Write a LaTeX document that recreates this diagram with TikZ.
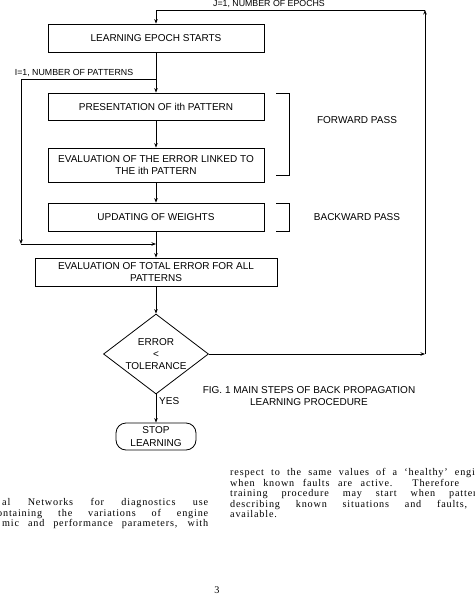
\documentclass[tikz,border=0pt]{standalone}
\usepackage{fontspec}
\setmainfont{Liberation Sans}
\newfontfamily\bodyserif[LetterSpace=8]{Liberation Serif}
\usetikzlibrary{arrows.meta,shapes.geometric}
\begin{document}
\begin{tikzpicture}[x=1pt,y=-1pt,
  box/.style={draw, line width=0.8pt, minimum width=216pt, minimum height=28pt, inner sep=0pt, align=center, font=\fontsize{10}{12.5}\selectfont},
  arr/.style={line width=0.8pt, -{Stealth[length=4.5pt,width=3.5pt]}},
  ln/.style={line width=0.8pt},
  lbl/.style={font=\fontsize{8.8}{10}\selectfont, inner sep=0pt},
  txt/.style={font=\fontsize{10}{12.3}\selectfont, inner sep=0pt, align=center},
  body/.style={font=\bodyserif\fontsize{10.2}{11}\selectfont, inner sep=0pt, anchor=base west}
]
\fill[white] (0,0) rectangle (474,597);
\useasboundingbox (0,0) rectangle (474,597);

% boxes
\node[box] (b1) at (156,38) {LEARNING EPOCH STARTS};
\node[box, minimum height=27pt] (b2) at (156,106.5) {PRESENTATION OF ith PATTERN};
\node[box, minimum height=34pt] (b3) at (156,165) {EVALUATION OF THE ERROR LINKED TO\\THE ith PATTERN};
\node[box] (b4) at (156,217) {UPDATING OF WEIGHTS};
\node[box, minimum width=242pt] (b5) at (156,272) {EVALUATION OF TOTAL ERROR FOR ALL\\PATTERNS};
\node[draw, line width=0.8pt, diamond, aspect=1.3125, inner sep=-1.5pt, minimum width=105pt, minimum height=80pt, align=center, font=\fontsize{10}{12}\selectfont] (dec) at (156,354) {ERROR\\<\\TOLERANCE};
\node[draw, line width=0.8pt, rounded corners=10pt, minimum width=80pt, minimum height=27pt, inner sep=0pt, align=center, font=\fontsize{10}{12.8}\selectfont] (stop) at (156,436.5) {STOP\\LEARNING};

% brackets
\draw[ln] (276,93) -- (289,93) -- (289,175) -- (276,175);
\draw[ln] (276,203) -- (289,203) -- (289,231) -- (276,231);

% texts
\node[txt] (fp) at (357,120) {FORWARD PASS};
\node[txt] (bp) at (357,217) {BACKWARD PASS};
\node[txt] (cap) at (309,396) {FIG. 1 MAIN STEPS OF BACK PROPAGATION\\LEARNING PROCEDURE};
\node[txt, anchor=west] (yes) at (159,401) {YES};
\node[lbl] (jlab) at (269,3.5) {J=1, NUMBER OF EPOCHS};
\node[lbl] (ilab) at (74,73) {I=1, NUMBER OF PATTERNS};

% pattern loop
\coordinate (iTop) at (156,79);
\coordinate (iTL) at (21,79);
\coordinate (iBL) at (21,244);
\coordinate (iBR) at (156,244);
\draw[arr] (b1.south) -- (b2.north);
\draw[ln] (iTop) -- (iTL);
\draw[arr] (iTL) -- (iBL);
\draw[arr] (iBL) -- (iBR);
\draw[arr] (b2) -- (b3);
\draw[arr] (b3) -- (b4);
\draw[arr] (b4) -- (b5);
\draw[arr] (b5) -- (dec);
\draw[arr] (dec) -- (stop);

% epoch loop
\coordinate (jBR) at (425,354);
\coordinate (jTR) at (425,10);
\coordinate (jTL) at (156,10);
\draw[arr] (dec.east) -- (jBR);
\draw[arr] (jBR) -- (jTR);
\draw[arr] (jTR) -- (jTL) -- (b1.north);

% body text
\node[body] (l1) at (2,505.5) {\makebox[206pt][s]{al Networks for diagnostics use}};
\node[body] (l2) at (-3,516) {\makebox[211pt][s]{ontaining the variations of engine}};
\node[body] (l3) at (2,526.5) {\makebox[206pt][s]{mic and performance parameters, with}};
\node[body] (r1) at (230,475.5) {\makebox[256pt][s]{respect to the same values of a ‘healthy’ engine}};
\node[body] (r2) at (230,486) {\makebox[229pt][s]{when known faults are active. Therefore}};
\node[body] (r3) at (230,496.5) {\makebox[257pt][s]{training procedure may start when patterns}};
\node[body] (r4) at (230,507) {\makebox[237pt][s]{describing known situations and faults,}};
\node[body] (r5) at (230,517.5) {available.};
\node[body, anchor=center] (pg) at (217,590) {3};
\end{tikzpicture}
\end{document}
